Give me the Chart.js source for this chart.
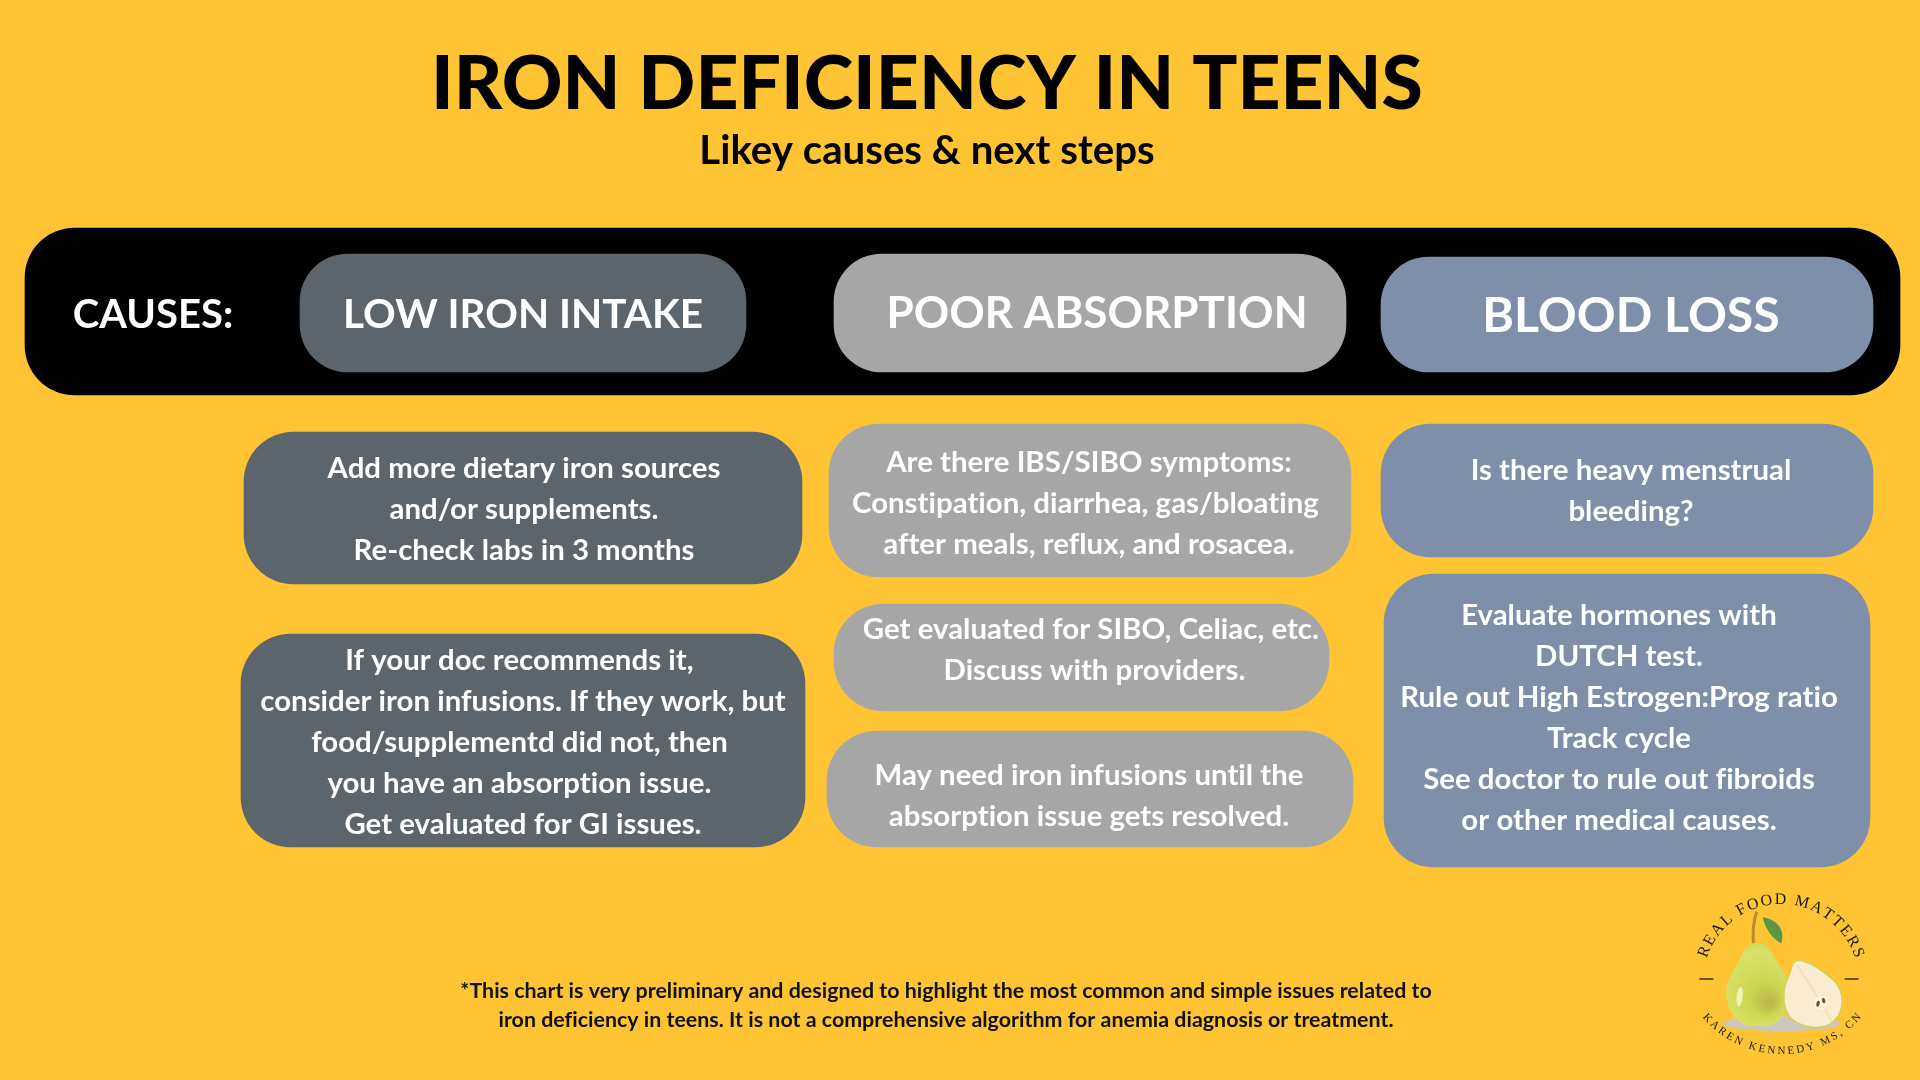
<!DOCTYPE html>
<html>
<head>
<meta charset="utf-8">
<title>Iron deficiency in teens</title>
<script src="https://cdn.jsdelivr.net/npm/chart.js@4"></script>
<style>
  html, body { margin: 0; padding: 0; background: #FFC433; }
  canvas { display: block; }
</style>
</head>
<body>
<canvas id="chart" width="1920" height="1080"></canvas>
<script>
// chart text
var titleText = "IRON DEFICIENCY IN TEENS";
var subtitleText = "Likey causes & next steps";
var causesLabel = "CAUSES:";
var categories = ["LOW IRON INTAKE", "POOR ABSORPTION", "BLOOD LOSS"];
var footnote = [
    "*This chart is very preliminary and designed to highlight the most common and simple issues related to",
    "iron deficiency in teens. It is not a comprehensive algorithm for anemia diagnosis or treatment."
];
// trailing spaces are kept, they push those lines off centre like in the picture
var lowIntakeSteps = [
    ["Add more dietary iron sources", "and/or supplements.", "Re-check labs in 3 months"],
    ["If your doc recommends it, ", "consider iron infusions. If they work, but", "food/supplementd did not, then ", "you have an absorption issue. ", "Get evaluated for GI issues."]
];
var absorptionSteps = [
    ["Are there IBS/SIBO symptoms:", "Constipation, diarrhea, gas/bloating ", "after meals, reflux, and rosacea."],
    ["Get evaluated for SIBO, Celiac, etc. ", "Discuss with providers."],
    ["May need iron infusions until the", "absorption issue gets resolved."]
];
var bloodLossSteps = [
    ["Is there heavy menstrual", "bleeding?"],
    ["Evaluate hormones with", "DUTCH test.", "Rule out High Estrogen:Prog ratio", "Track cycle", "See doctor to rule out fibroids", "or other medical causes."]
];

// box extents, in axis units [left, right, top, bottom]
var causesBand = [25, 1900, 228, 395];
var headerBoxes = [[300, 746, 254, 372], [834, 1346, 254, 372], [1381, 1873, 257, 372]];
var lowIntakeBoxes = [[244, 802, 432, 584], [241, 805, 634, 847]];
var absorptionBoxes = [[829, 1351, 424, 577], [834, 1329, 604, 711], [827, 1353, 731, 847]];
var bloodLossBoxes = [[1381, 1873, 424, 557], [1384, 1870, 574, 867]];

var colors = { page: "#FFC433", band: "#000000", low: "#5C646C", poor: "#A6A6A6", blood: "#7F8FA9" };

var datasets = [];
function addBox(box, color, radius, order) {
    datasets.push({
        data: [{ x: [box[0], box[1]], y: (box[2] + box[3]) / 2 }],
        barThickness: box[3] - box[2],
        backgroundColor: color,
        borderRadius: radius,
        borderSkipped: false,
        borderWidth: 0,
        grouped: false,
        order: order
    });
}
// higher order is painted first, the band has to sit under the headers
addBox(causesBand, colors.band, 50, 1);
[colors.low, colors.poor, colors.blood].forEach(function (c, i) { addBox(headerBoxes[i], c, 48, 0); });
lowIntakeBoxes.forEach(function (b) { addBox(b, colors.low, 50, 0); });
absorptionBoxes.forEach(function (b) { addBox(b, colors.poor, 50, 0); });
bloodLossBoxes.forEach(function (b) { addBox(b, colors.blood, 50, 0); });

// text block centres: x, first line y
var lineGap = 41;
var textBlocks = [
    { lines: lowIntakeSteps[0], x: 524, y: 469 },
    { lines: lowIntakeSteps[1], x: 523, y: 661 },
    { lines: absorptionSteps[0], x: 1089, y: 463 },
    { lines: absorptionSteps[1], x: 1094.5, y: 630 },
    { lines: absorptionSteps[2], x: 1089, y: 776 },
    { lines: bloodLossSteps[0], x: 1631, y: 471 },
    { lines: bloodLossSteps[1], x: 1619, y: 616 }
];

function put(ctx, x, y, text, font, color) {
    ctx.font = font;
    ctx.fillStyle = color;
    ctx.fillText(text, x, y);
}

// places letters along a circle by their measured width; gap is extra px between letters
function arcText(ctx, text, cx, cy, r, gap, bottom) {
    var chars = text.split("");
    var widths = chars.map(function (ch) { return ctx.measureText(ch).width + gap; });
    var total = widths.reduce(function (a, b) { return a + b; }, 0);
    var pos = -total / 2;
    chars.forEach(function (ch, i) {
        var a = (pos + widths[i] / 2) / r;
        pos += widths[i];
        ctx.save();
        ctx.translate(cx + r * Math.sin(a), cy - r * Math.cos(a) * (bottom ? -1 : 1));
        ctx.rotate(bottom ? -a : a);
        ctx.fillText(ch, 0, 0);
        ctx.restore();
    });
}

// pear logo, coordinates are in a 810x630 box placed at the bottom right
function drawLogo(ctx, x, y) {
    ctx.save();
    ctx.translate(x, y);
    ctx.scale(1 / 3, 1 / 3);

    ctx.fillStyle = "#C9C7BE";
    ctx.beginPath();
    ctx.ellipse(395, 461, 175, 22, 0, 0, Math.PI * 2);
    ctx.fill();

    ctx.strokeStyle = "#B98C2E";
    ctx.lineWidth = 9;
    ctx.beginPath();
    ctx.moveTo(320, 125);
    ctx.quadraticCurveTo(305, 170, 311, 228);
    ctx.stroke();

    ctx.fillStyle = "#5B9648";
    ctx.beginPath();
    ctx.moveTo(338, 142);
    ctx.bezierCurveTo(385, 150, 405, 180, 394, 221);
    ctx.bezierCurveTo(365, 205, 345, 175, 338, 142);
    ctx.fill();

    var body = ctx.createRadialGradient(360, 400, 10, 320, 350, 150);
    body.addColorStop(0, "#BDBB4A");
    body.addColorStop(0.3, "#CCD650");
    body.addColorStop(0.75, "#D9E268");
    body.addColorStop(1, "#C9D64F");
    ctx.fillStyle = body;
    ctx.beginPath();
    ctx.moveTo(328, 218);
    ctx.bezierCurveTo(365, 222, 370, 270, 395, 295);
    ctx.bezierCurveTo(425, 330, 412, 400, 405, 425);
    ctx.bezierCurveTo(390, 460, 350, 476, 325, 466);
    ctx.bezierCurveTo(290, 480, 245, 450, 232, 395);
    ctx.bezierCurveTo(218, 340, 255, 300, 272, 262);
    ctx.bezierCurveTo(282, 235, 300, 216, 328, 218);
    ctx.fill();

    ctx.fillStyle = "#F0F2B8";
    ctx.beginPath();
    ctx.ellipse(269, 380, 9, 30, 0.1, 0, Math.PI * 2);
    ctx.fill();

    ctx.fillStyle = "#F9ECD0";
    ctx.strokeStyle = "#C9D45A";
    ctx.lineWidth = 4;
    ctx.beginPath();
    ctx.moveTo(440, 271);
    ctx.bezierCurveTo(480, 272, 510, 300, 545, 325);
    ctx.bezierCurveTo(590, 365, 585, 435, 540, 462);
    ctx.bezierCurveTo(500, 482, 440, 470, 415, 435);
    ctx.bezierCurveTo(395, 400, 398, 350, 420, 310);
    ctx.bezierCurveTo(425, 295, 425, 278, 440, 271);
    ctx.closePath();
    ctx.fill();
    ctx.stroke();

    // core lines of the cut half
    ctx.strokeStyle = "#F3DDA8";
    ctx.lineWidth = 4;
    ctx.beginPath();
    ctx.moveTo(442, 285);
    ctx.lineTo(505, 385);
    ctx.moveTo(520, 410);
    ctx.lineTo(545, 455);
    ctx.stroke();
    ctx.fillStyle = "#FDF6E3";
    ctx.beginPath();
    ctx.ellipse(514, 398, 20, 22, 0, 0, Math.PI * 2);
    ctx.fill();

    ctx.fillStyle = "#7A4A20";
    ctx.beginPath();
    ctx.ellipse(504, 401, 5, 9, 0.2, 0, Math.PI * 2);
    ctx.fill();
    ctx.beginPath();
    ctx.ellipse(521, 392, 5, 8, -0.3, 0, Math.PI * 2);
    ctx.fill();

    ctx.fillStyle = "#222222";
    ctx.fillRect(148, 325, 42, 4);
    ctx.fillRect(584, 325, 42, 4);
    ctx.restore();

    ctx.fillStyle = "#1A1A1A";
    ctx.textAlign = "center";
    ctx.textBaseline = "alphabetic";
    ctx.font = "16px 'Liberation Serif'";
    arcText(ctx, "REAL FOOD MATTERS", 1781, 982, 78, 1.8, false);
    ctx.font = "11px 'Liberation Serif'";
    arcText(ctx, "KAREN KENNEDY MS, CN", 1782, 950, 104, 2.5, true);
}

var textPlugin = {
    id: "textPlugin",
    beforeDraw: function (chart) {
        var ctx = chart.ctx;
        ctx.save();
        ctx.fillStyle = colors.page;
        ctx.fillRect(0, 0, chart.width, chart.height);
        ctx.restore();
    },
    afterDatasetsDraw: function (chart) {
        var ctx = chart.ctx;
        var xs = chart.scales.x, ys = chart.scales.y;
        ctx.save();
        ctx.textAlign = "center";
        ctx.textBaseline = "middle";
        // the picture has no fi / ti ligatures, a tiny spacing turns them off
        ctx.letterSpacing = "0.01px";

        put(ctx, 927, 84.5, titleText, "900 75px Lato", "#000000");
        put(ctx, 927, 151, subtitleText, "bold 40.2px Lato", "#000000");

        put(ctx, 153, 315, causesLabel, "bold 40px Lato", "#FFFFFF");
        put(ctx, 523, 315, categories[0], "bold 40.5px Lato", "#FFFFFF");
        put(ctx, 1097, 314, categories[1], "bold 44px Lato", "#FFFFFF");
        put(ctx, 1631, 316.5, categories[2], "bold 48.2px Lato", "#FFFFFF");

        textBlocks.forEach(function (block) {
            block.lines.forEach(function (line, i) {
                put(ctx, xs.getPixelForValue(block.x), ys.getPixelForValue(block.y + i * lineGap), line, "bold 29.4px Lato", "#FFFFFF");
            });
        });

        put(ctx, 946, 991, footnote[0], "bold 21.4px Lato", "#111111");
        put(ctx, 946, 1020, footnote[1], "bold 21.4px Lato", "#111111");

        ctx.letterSpacing = "0px";
        drawLogo(ctx, 1650, 870);
        ctx.restore();
    }
};

new Chart(document.getElementById("chart"), {
    type: "bar",
    data: { datasets: datasets },
    plugins: [textPlugin],
    options: {
        indexAxis: "y",
        responsive: false,
        animation: false,
        devicePixelRatio: 1,
        layout: { padding: 0 },
        plugins: { legend: { display: false }, title: { display: false }, tooltip: { enabled: false } },
        scales: {
            x: { type: "linear", min: 0, max: 1920, offset: false, display: false },
            y: { type: "linear", min: 0, max: 1080, reverse: true, offset: false, display: false }
        }
    }
});
</script>
</body>
</html>
